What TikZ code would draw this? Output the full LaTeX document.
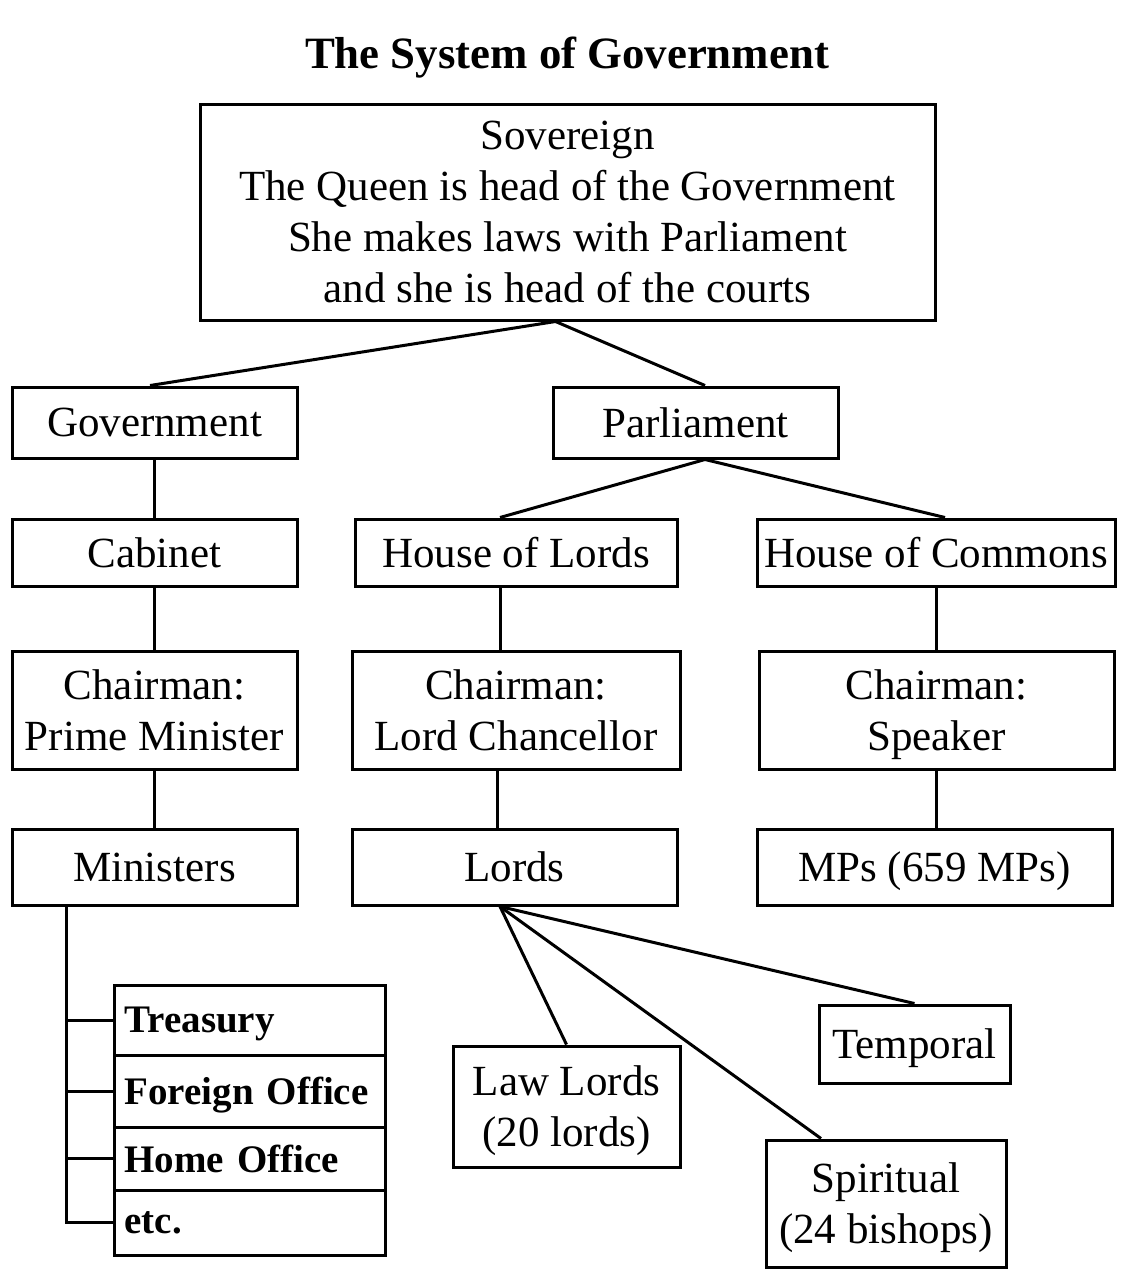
\documentclass[tikz,border=0pt]{standalone}
\usepackage{fontspec}
\setmainfont{Liberation Serif}
\usetikzlibrary{calc}
\begin{document}
\begin{tikzpicture}[x=0.5pt,y=-0.5pt,
  box/.style={draw, line width=1.5pt, inner sep=1pt, align=center,
    font=\fontsize{21.5}{25.5}\selectfont, text depth=0pt},
  dept/.style={draw, line width=1.5pt, anchor=west, text width=125.5pt,
    inner xsep=5pt, inner ysep=0pt, align=left,
    font=\fontsize{19.5}{24}\selectfont\bfseries, text depth=0pt},
  link/.style={line width=1.5pt}]

\useasboundingbox (0,0) rectangle (1131,1287);

% Title
\node (title) at (567,58) {\fontsize{22.4}{27}\selectfont\bfseries The System of Government};

% Sovereign at the top
\node[box, minimum width=367.5pt, minimum height=108pt] (sov) at (567.5,212)
  {Sovereign\\The Queen is head of the Government\\She makes laws with Parliament\\and she is head of the courts};

% Second row
\node[box, minimum width=142.5pt, minimum height=35.5pt] (gov) at (154.5,422.5) {Government};
\node[box, minimum width=142.5pt, minimum height=35.5pt] (parl) at (695.5,422.5) {Parliament};

% Third row
\node[box, minimum width=142.5pt, minimum height=33.5pt] (cab) at (154.5,552.5) {Cabinet};
\node[box, minimum width=161pt, minimum height=33.5pt] (hol) at (516,552.5) {House of Lords};
\node[box, minimum width=179pt, minimum height=33.5pt] (hoc) at (936,552.5) {House of Commons};

% Chairmen
\node[box, minimum width=142.5pt, minimum height=59pt] (pm) at (154.5,710) {Chairman:\\Prime Minister};
\node[box, minimum width=164pt, minimum height=59pt] (lc) at (516,710) {Chairman:\\Lord Chancellor};
\node[box, minimum width=177.5pt, minimum height=59pt] (spk) at (936.5,710) {Chairman:\\Speaker};

% Members
\node[box, minimum width=142.5pt, minimum height=38pt] (min) at (154.5,867) {Ministers};
\node[box, minimum width=162.5pt, minimum height=38pt] (lords) at (514.5,867) {Lords};
\node[box, minimum width=177.5pt, minimum height=38pt] (mps) at (934.5,867) {MPs (659 MPs)};

% Kinds of lords
\node[box, minimum width=95.5pt, minimum height=39pt] (temporal) at (914.5,1044) {Temporal};
\node[box, minimum width=113.5pt, minimum height=60.5pt] (lawlords) at (566.5,1106.5) {Law Lords\\(20 lords)};
\node[box, minimum width=120pt, minimum height=63.5pt] (spiritual) at (886,1203.5) {Spiritual\\(24 bishops)};

% Departments
\node[dept, minimum height=35pt] (treasury) at (113,1020) {Treasury};
\node[dept, minimum height=36pt] (foreign) at (113,1091) {Foreign Office};
\node[dept, minimum height=31.5pt] (home) at (113,1158.5) {Home Office};
\node[dept, minimum height=32.5pt] (etc) at (113,1222.5) {etc.};

% Sovereign to Government and Parliament
\coordinate (sovfoot) at ($(sov.south)+(-12,0)$);
\draw[link] (sovfoot) -- ($(gov.north)+(-4.5,0)$);
\draw[link] (sovfoot) -- ($(parl.north)+(9.5,0)$);

% Parliament to the two Houses
\coordinate (parlfoot) at ($(parl.south)+(9.5,0)$);
\draw[link] (parlfoot) -- ($(hol.north)+(-16,0)$);
\draw[link] (parlfoot) -- ($(hoc.north)+(9,0)$);

% Government column
\draw[link] (gov) -- (cab);
\draw[link] (cab) -- (pm);
\draw[link] (pm) -- (min);

% Lords column
\draw[link] ($(hol.south)+(-16,0)$) -- ($(lc.north)+(-16,0)$);
\draw[link] ($(lc.south)+(-19,0)$) -- ($(lords.north)+(-17.5,0)$);

% Commons column
\draw[link] (hoc.south) -- (hoc.south |- spk.north);
\draw[link] (spk.south) -- (spk.south |- mps.north);

% Lords split into three
\coordinate (lordsfoot) at ($(lords.south)+(-14.5,0)$);
\draw[link] (lordsfoot) -- (lawlords.north);
\draw[link] (lordsfoot) -- (spiritual.135);
\draw[link] (lordsfoot) -- (temporal.north);

% Ministers to departments
\coordinate (minfoot) at ($(min.south west)+(56,0)$);
\draw[link] (minfoot) |- (etc.west);
\foreach \d in {treasury,foreign,home}
  \draw[link] (\d.west -| minfoot) -- (\d.west);

\end{tikzpicture}
\end{document}
